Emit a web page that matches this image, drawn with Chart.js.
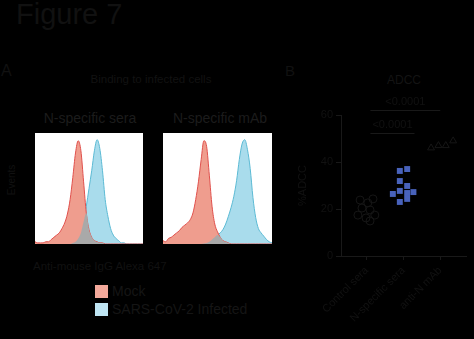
<!DOCTYPE html>
<html>
<head>
<meta charset="utf-8">
<script src="https://cdn.jsdelivr.net/npm/chart.js@4"></script>
<style>
  html, body { margin: 0; padding: 0; background: #000; }
  body { width: 474px; height: 339px; position: relative; overflow: hidden; font-family: "Liberation Sans", Arial, sans-serif; color: #101010; }
  .t { position: absolute; line-height: 1; white-space: nowrap; }
  .c { transform: translateX(-50%); }
  canvas { position: absolute; }
  .sw { position: absolute; width: 13px; height: 13px; }
</style>
</head>
<body>
<div class="t" style="left:16px;top:0px;font-size:29px;color:#111">Figure 7</div>
<div class="t" style="left:1px;top:63px;font-size:16px;color:#111">A</div>
<div class="t" style="left:285px;top:63px;font-size:15px;color:#111">B</div>
<div class="t c" style="left:151px;top:74px;font-size:11.5px;color:#121212">Binding to infected cells</div>
<div class="t c" style="left:404px;top:74px;font-size:12px;color:#141414">ADCC</div>
<div class="t c" style="left:90px;top:111px;font-size:14px;color:#1c1c1c">N-specific sera</div>
<div class="t c" style="left:220px;top:111px;font-size:14px;color:#1c1c1c">N-specific mAb</div>
<div class="t" style="left:-3px;top:175px;font-size:10px;color:#111;transform:rotate(-90deg)">Events</div>
<div class="t" style="left:33px;top:261px;font-size:11.5px;color:#111">Anti-mouse IgG Alexa 647</div>
<div class="sw" style="left:95px;top:285px;background:#f3a99b"></div>
<div class="t" style="left:112px;top:284px;font-size:14px;color:#151515">Mock</div>
<div class="sw" style="left:95px;top:303px;background:#bfe5f3"></div>
<div class="t" style="left:112px;top:302px;font-size:14px;color:#151515">SARS-CoV-2 Infected</div>

<canvas id="h1" width="108" height="111" style="left:35px;top:133px;background:#fff"></canvas>
<canvas id="h2" width="109" height="111" style="left:163px;top:133px;background:#fff"></canvas>
<canvas id="adcc" width="194" height="279" style="left:280px;top:60px"></canvas>

<script>
// 直方图横轴 (相对荧光强度)
const histX = [0, 2.5, 5, 7.5, 10, 12.5, 15, 17.5, 20, 22.5, 25, 27.5, 30, 32.5, 35, 37.5, 40,
  42.5, 45, 47.5, 50, 52.5, 55, 57.5, 60, 62.5, 65, 67.5, 70, 72.5, 75, 77.5, 80, 82.5, 85,
  87.5, 90, 92.5, 95, 97.5, 100];

// N-specific sera
const mockSera = [2, 1, 1, 1, 2, 2, 4, 6, 8, 10, 14, 19, 27, 40, 60, 82, 93,
  84, 56, 28, 13, 6, 3, 2, 1, 1, 0, 0, 0, 0, 0, 0, 0, 0, 0,
  0, 0, 0, 0, 0, 0];
const infectedSera = [0, 0, 0, 0, 0, 0, 0, 0, 0, 0, 0, 0, 0, 0, 1, 2, 5,
  10, 20, 34, 50, 66, 84, 94, 86, 66, 40, 25, 14, 8, 5, 3, 1, 1, 0,
  0, 0, 0, 0, 0, 0];

// N-specific mAb
const mockMab = [3, 2, 5, 6, 8, 10, 12, 15, 17, 19, 22, 28, 40, 56, 76, 93, 88,
  62, 34, 18, 11, 6, 3, 2, 1, 0, 0, 0, 0, 0, 0, 0, 0, 0, 0,
  0, 0, 0, 0, 0, 0];
const infectedMab = [0, 0, 0, 0, 0, 0, 0, 0, 0, 0, 0, 0, 0, 0, 0, 0.5, 1,
  2, 4, 6, 8, 10, 13, 18, 25, 33, 43, 57, 76, 90, 94, 85, 68, 42, 24,
  14, 10, 7, 4, 2, 1];

// ADCC
const adccCategories = ['Control sera', 'N-specific sera', 'anti-N mAb'];
const adccTicks = [0, 20, 40, 60];
const controlX = [-0.18, 0.03, 0.17, -0.13, 0.09, -0.24, -0.02, 0.22, 0.09];
const controlY = [23.8, 22.6, 24.3, 20.4, 19.6, 17.4, 16.2, 17.4, 14.9];
const nSeraX = [0.9, 1.1, 0.9, 1.1, 0.9, 1.1, 1.27, 0.71, 0.9, 1.1];
const nSeraY = [36.2, 37, 31.9, 29.8, 27.7, 26.8, 27.2, 26.4, 23, 24.3];
const mabX = [1.75, 1.95, 2.15, 2.35];
const mabY = [46, 47, 47, 49];

// 显著性标注
const bracketFrom = [0.1, 0.1];
const bracketTo = [2, 1.3];
const bracketY = [62, 52.5];
const bracketText = ['<0.0001', '<0.0001'];

const fontFamily = '"Liberation Sans", Arial, sans-serif';
const axisColor = '#191919';
const textColor = '#111111';

function histChart(id, mock, infected) {
  const overlap = mock.map((v, i) => Math.min(v, infected[i]));
  const pts = arr => arr.map((v, i) => ({ x: histX[i], y: v }));
  return new Chart(document.getElementById(id), {
    type: 'line',
    data: {
      datasets: [
        { data: pts(infected), borderColor: '#5bbad4', backgroundColor: '#a9dcec', fill: 'origin', order: 3 },
        { data: pts(mock), borderColor: '#e0504c', backgroundColor: '#ef9d8e', fill: 'origin', order: 2 },
        { data: pts(overlap), borderWidth: 0, borderColor: 'rgba(0,0,0,0)', backgroundColor: '#a9a9a9', fill: 'origin', order: 1 }
      ]
    },
    options: {
      responsive: false,
      animation: false,
      layout: { padding: 0 },
      elements: {
        point: { radius: 0 },
        line: { borderWidth: 1, cubicInterpolationMode: 'monotone' }
      },
      scales: {
        x: { type: 'linear', min: 0, max: 100, display: false },
        y: { min: 0, max: 100, display: false }
      },
      plugins: { legend: { display: false }, tooltip: { enabled: false } }
    }
  });
}

histChart('h1', mockSera, infectedSera);
histChart('h2', mockMab, infectedMab);

const bracketPlugin = {
  id: 'brackets',
  afterDraw(chart) {
    const { ctx, scales: { x, y } } = chart;
    ctx.save();
    ctx.strokeStyle = axisColor;
    ctx.lineWidth = 1;
    ctx.fillStyle = textColor;
    ctx.font = '11px ' + fontFamily;
    ctx.textAlign = 'center';
    ctx.textBaseline = 'bottom';
    bracketY.forEach((v, i) => {
      const x1 = x.getPixelForValue(bracketFrom[i]);
      const x2 = x.getPixelForValue(bracketTo[i]);
      const py = Math.round(y.getPixelForValue(v)) + 0.5;
      ctx.beginPath();
      ctx.moveTo(x1, py);
      ctx.lineTo(x2, py);
      ctx.stroke();
      ctx.fillText(bracketText[i], (x1 + x2) / 2, py - 3);
    });
    ctx.restore();
  }
};

const zip = (xs, ys) => xs.map((v, i) => ({ x: v, y: ys[i] }));

new Chart(document.getElementById('adcc'), {
  type: 'scatter',
  data: {
    datasets: [
      { data: zip(controlX, controlY), pointStyle: 'circle', radius: 4, borderColor: '#161616', backgroundColor: 'rgba(0,0,0,0)', borderWidth: 1 },
      { data: zip(nSeraX, nSeraY), pointStyle: 'rect', radius: 4.2, backgroundColor: '#4862bb', borderColor: '#4862bb', borderWidth: 0 },
      { data: zip(mabX, mabY), pointStyle: 'triangle', radius: 4, borderColor: '#161616', backgroundColor: 'rgba(0,0,0,0)', borderWidth: 1 }
    ]
  },
  options: {
    responsive: false,
    animation: false,
    layout: { padding: { left: 12, top: 55, right: 8, bottom: 0 } },
    scales: {
      x: {
        type: 'linear', min: -0.7, max: 2.7,
        afterBuildTicks: s => { s.ticks = adccCategories.map((c, i) => ({ value: i })); },
        afterFit: s => { s.height = 83; },
        ticks: {
          callback: v => adccCategories[v],
          minRotation: 45, maxRotation: 45, autoSkip: false, padding: 4,
          color: textColor, font: { size: 11, family: fontFamily }
        },
        grid: { drawOnChartArea: false, tickLength: 4, color: axisColor },
        border: { color: axisColor }
      },
      y: {
        min: 0, max: 60,
        afterBuildTicks: s => { s.ticks = adccTicks.map(v => ({ value: v })); },
        afterFit: s => { s.width = 49; },
        title: { display: true, text: '%ADCC', color: textColor, font: { size: 11, family: fontFamily } },
        ticks: { color: textColor, padding: 3, font: { size: 11, family: fontFamily } },
        grid: { drawOnChartArea: false, tickLength: 5, color: axisColor },
        border: { color: axisColor }
      }
    },
    plugins: { legend: { display: false }, tooltip: { enabled: false } }
  },
  plugins: [bracketPlugin]
});
</script>
</body>
</html>
